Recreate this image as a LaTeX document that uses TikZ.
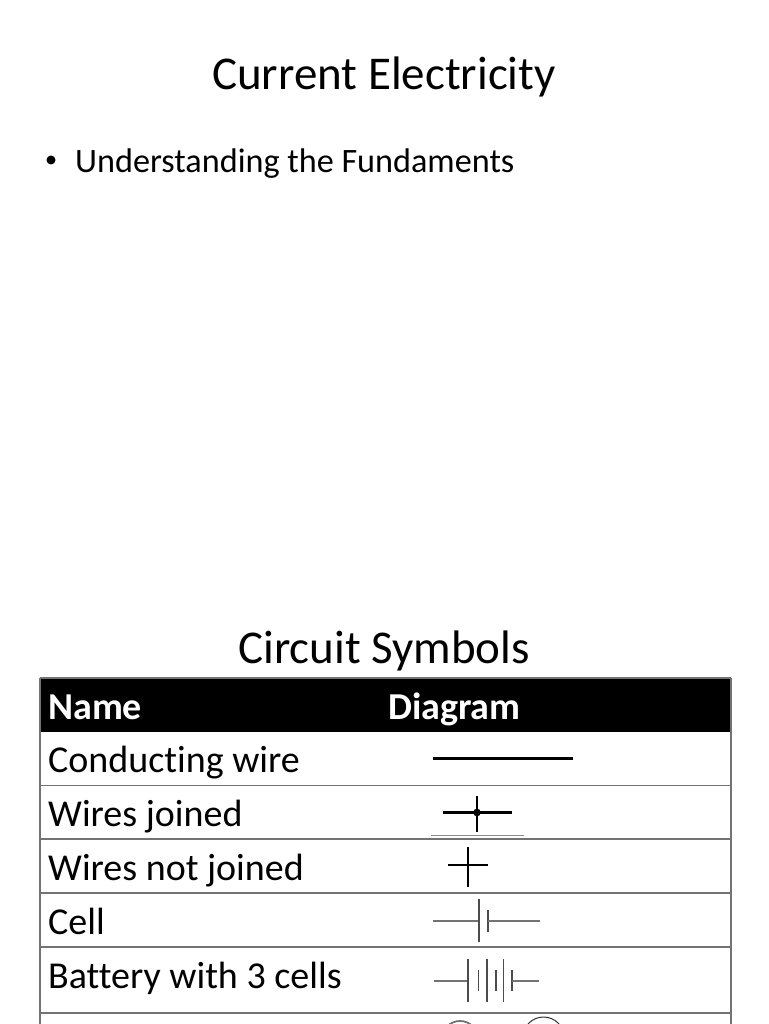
\documentclass[tikz,border=0pt]{standalone}
\usepackage{fontspec}
\setmainfont[Ligatures={NoCommon,NoContextual}]{Carlito}
\tikzset{
	pagetext/.style={inner sep=0pt, anchor=base west, text=black},
	tablerule/.style={line width=1.5pt, black!55},
	blackwire/.style={line width=2.4pt, black},
	greywire/.style={line width=1.5pt, black!55},
	plate/.style={line width=1.8pt, black!70},
}
\begin{document}
\begin{tikzpicture}[x=1pt, y=-1pt]
	\useasboundingbox (0,0) rectangle (768,1024);

	\node[pagetext, font=\fontsize{47}{47}\selectfont] (title) at (212,90) {Current Electricity};
	\node[pagetext, font=\fontsize{34.2}{34.2}\selectfont] (bullet) at (75,173) {Understanding the Fundaments};
	\node[circle, fill, inner sep=0pt, minimum size=9pt] (dot) at (51,160) {};

	\node[pagetext, font=\fontsize{47}{47}\selectfont] (heading) at (238,663) {Circuit Symbols};

	\fill[black] (40,678) rectangle (731,732);
	\draw[tablerule] (40,678) -- (40,1024);
	\draw[tablerule] (731,678) -- (731,1024);
	\foreach \y in {678,785.5,839,893,947,1013} {
		\draw[tablerule] (40,\y) -- (731,\y);
	}

	\node[pagetext, text=white, font=\bfseries\fontsize{38}{38}\selectfont] (name) at (48,719) {Name};
	\node[pagetext, text=white, font=\bfseries\fontsize{38}{38}\selectfont] (diagram) at (388,719) {Diagram};
	\node[pagetext, font=\fontsize{38}{38}\selectfont] (wire) at (48,772) {Conducting wire};
	\node[pagetext, font=\fontsize{38}{38}\selectfont] (joined) at (48,826) {Wires joined};
	\node[pagetext, font=\fontsize{38}{38}\selectfont] (notjoined) at (48,880) {Wires not joined};
	\node[pagetext, font=\fontsize{38}{38}\selectfont] (cell) at (48,934) {Cell};
	\node[pagetext, font=\fontsize{38}{38}\selectfont] (battery) at (48,988) {Battery with 3 cells};

	% conducting wire
	\draw[blackwire] (433,758.5) -- (573,758.5);

	% wires joined
	\draw[blackwire] (443,812.5) -- (512,812.5);
	\draw[blackwire] (477,796) -- (477,832);
	\fill (477,812.5) circle (3.8);
	\draw[line width=0.8pt, black!45] (431,835) -- (524,835);

	% wires not joined
	\draw[blackwire] (448,865) -- (488,865);
	\draw[blackwire] (468,847) -- (468,887);

	% cell
	\draw[greywire] (433,921) -- (479,921);
	\draw[plate] (479,899) -- (479,942);
	\draw[plate] (488,910) -- (488,932);
	\draw[greywire] (488,921) -- (540,921);

	% battery
	\draw[greywire] (434,981) -- (468,981);
	\draw[plate] (468,959) -- (468,1002);
	\draw[plate] (478.5,970) -- (478.5,991);
	\draw[plate] (487,959) -- (487,1002);
	\draw[plate] (496,970) -- (496,991);
	\draw[plate] (503.5,959) -- (503.5,1002);
	\draw[plate] (512,970) -- (512,991);
	\draw[greywire] (512,981) -- (539,981);

	% next row, cut off
	\draw[line width=1pt, black!80] (543.5,1037.6) circle (20.6);
	\draw[line width=1.8pt, black!55] (460,1039) circle (18);
\end{tikzpicture}
\end{document}
